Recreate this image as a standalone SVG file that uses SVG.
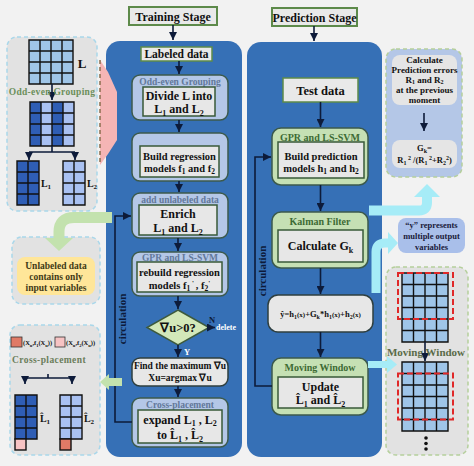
<svg xmlns="http://www.w3.org/2000/svg" width="474" height="466" viewBox="0 0 474 466">
<style>
text{font-family:"Liberation Serif","Times New Roman",serif;font-weight:bold;fill:#111;text-anchor:middle}
.panel{fill:#3670b6}
.stage{fill:#e9e9e9;stroke:#5d8a4a;stroke-width:2}
.cb{fill:#b4c7e7;stroke:#3c5a4c;stroke-width:1.5}
.cg{fill:#c5e0b4;stroke:#3c5a4c;stroke-width:1.5}
.ib{fill:#e7e7e7;stroke:#385a38;stroke-width:1.5}
.rb{fill:#e7e7e7;stroke:#2f3f3f;stroke-width:1.5}
.lb{fill:#62789a;font-size:9.5px}
.lg{fill:#3d6b35;font-size:10px}
.dc{fill:#e2e2e2;stroke:#a9d7ea;stroke-width:1.5;stroke-dasharray:4 3}
.dg{stroke:#b5cf9c;stroke-width:1.5;stroke-dasharray:4 3}
.grid{fill:none;stroke:#111;stroke-width:1.4}
.fl{fill:none;stroke:#0d1b3a;stroke-width:1.6}
.cy{fill:none;stroke:#a6ecf7}
.gr{fill:none;stroke:#c3e2ae}
.rd{fill:none;stroke:#e02828;stroke-width:2;stroke-dasharray:6 3}
.dark{fill:#2f5eb5}
.light{fill:#a9c1f2}
.sky{fill:#9fc5e8}
.ep{font-size:9px}
</style>
<defs>
<marker id="ah" viewBox="0 0 10 10" refX="10" refY="5" markerWidth="5" markerHeight="5" orient="auto"><path d="M0,0 L10,5 L0,10 z" fill="#0d1b3a"/></marker>
</defs>
<rect width="474" height="466" fill="#f2f2f2"/>

<!-- big panels -->
<rect class="panel" x="106" y="41" width="136" height="416" rx="14"/>
<rect class="panel" x="247" y="42" width="135" height="415" rx="14"/>

<!-- left side panels -->
<g id="grouping-panel">
<rect class="dc" x="7" y="37" width="90" height="174" rx="10"/>
<rect class="sky" x="29" y="40" width="44" height="44"/>
<path class="grid" d="M29,40h44v44h-44z M40,40v44 M51,40v44 M62,40v44 M29,51h44 M29,62h44 M29,73h44"/>
<text x="82" y="68" style="font-size:13px">L</text>
<rect class="dark" x="30" y="102" width="11" height="44"/>
<rect class="light" x="41" y="102" width="11" height="44"/>
<rect class="dark" x="52" y="102" width="11" height="44"/>
<rect class="light" x="63" y="102" width="11" height="44"/>
<path class="grid" d="M30,102h44v44h-44z M41,102v44 M52,102v44 M63,102v44 M30,113h44 M30,124h44 M30,135h44"/>
<rect class="dark" x="17" y="161" width="22" height="44"/>
<path class="grid" d="M17,161h22v44h-22z M28,161v44 M17,172h22 M17,183h22 M17,194h22"/>
<rect class="light" x="63" y="161" width="22" height="44"/>
<path class="grid" d="M63,161h22v44h-22z M74,161v44 M63,172h22 M63,183h22 M63,194h22"/>
<text x="46" y="187" style="font-size:10px">L<tspan dy="2" style="font-size:7px">1</tspan></text>
<text x="92" y="187" style="font-size:10px">L<tspan dy="2" style="font-size:7px">2</tspan></text>
<path class="fl" d="M52,84V100" marker-end="url(#ah)"/>
<text x="52" y="95" style="fill:#6b8e5a;font-size:9.5px;letter-spacing:0.3px">Odd-even Grouping</text>
<path class="fl" d="M52,146V152 M29,152H75" />
<path class="fl" d="M29,152V160" marker-end="url(#ah)"/>
<path class="fl" d="M75,152V160" marker-end="url(#ah)"/>
</g>

<g id="callout">
<polygon points="100,60 108,72 117,92 117,140 108,154 100,165" fill="#f5b5b5"/>
<path d="M100,60V165" stroke="#8b6d4d" stroke-width="1.5" stroke-dasharray="4 3"/>
</g>

<g id="unlabeled-panel">
<rect class="dc" x="12" y="237" width="88" height="67" rx="10"/>
<rect x="17" y="257" width="78" height="38" rx="8" fill="#ffe699"/>
<text x="56" y="269" style="font-size:9.5px;fill:#3f3a16">Unlabeled data</text>
<text x="56" y="280" style="font-size:9.5px;fill:#3f3a16">contains only</text>
<text x="56" y="291" style="font-size:9.5px;fill:#3f3a16">input variables</text>
</g>

<g id="cross-panel">
<rect class="dc" x="10" y="325" width="90" height="130" rx="10"/>
<rect x="11" y="337" width="11" height="10" fill="#e07a66" stroke="#333" stroke-width="0.8"/>
<text x="23" y="345" style="font-size:6.5px;text-anchor:start">(X<tspan dy="1.5" style="font-size:4.5px">u</tspan><tspan dy="-1.5">,f</tspan><tspan dy="1.5" style="font-size:4.5px">1</tspan><tspan dy="-1.5">(X</tspan><tspan dy="1.5" style="font-size:4.5px">u</tspan><tspan dy="-1.5">))</tspan></text>
<rect x="55" y="337" width="10" height="10" fill="#f7c3c3" stroke="#333" stroke-width="0.8"/>
<text x="66" y="345" style="font-size:6.5px;text-anchor:start">(X<tspan dy="1.5" style="font-size:4.5px">u</tspan><tspan dy="-1.5">,f</tspan><tspan dy="1.5" style="font-size:4.5px">2</tspan><tspan dy="-1.5">(X</tspan><tspan dy="1.5" style="font-size:4.5px">u</tspan><tspan dy="-1.5">))</tspan></text>
<text x="49" y="363" style="fill:#6b7d5a;font-size:9.5px;letter-spacing:0.4px">Cross-placement</text>
<path class="fl" d="M48,374V378 M25,378H72"/>
<path class="fl" d="M25,378V384" marker-end="url(#ah)"/>
<path class="fl" d="M72,378V384" marker-end="url(#ah)"/>
<rect class="dark" x="15" y="395" width="22" height="44"/>
<path class="grid" d="M15,395h22v44h-22z M26,395v44 M15,406h22 M15,417h22 M15,428h22"/>
<rect x="15" y="439" width="11" height="11" fill="#f7c3c3" stroke="#111" stroke-width="1.4"/>
<rect class="light" x="60" y="395" width="22" height="44"/>
<path class="grid" d="M60,395h22v44h-22z M71,395v44 M60,406h22 M60,417h22 M60,428h22"/>
<rect x="60" y="439" width="11" height="11" fill="#e07a66" stroke="#111" stroke-width="1.4"/>
<text x="45" y="422" style="font-size:10px">L̂<tspan dy="2" style="font-size:7px">1</tspan></text>
<text x="89" y="422" style="font-size:10px">L̂<tspan dy="2" style="font-size:7px">2</tspan></text>
</g>

<!-- right side panels -->
<g id="error-panel">
<rect x="386" y="49" width="76" height="128" rx="10" fill="#b4c7e7" class="dg"/>
<rect x="392" y="55" width="65" height="50" rx="8" fill="#e5e5e5"/>
<text class="ep" x="424.5" y="63">Calculate</text>
<text class="ep" x="424.5" y="73">Prediction errors</text>
<text class="ep" x="424.5" y="82.5">R<tspan dy="1.5" style="font-size:6px">1</tspan><tspan dy="-1.5"> and R</tspan><tspan dy="1.5" style="font-size:6px">2</tspan></text>
<text class="ep" x="424.5" y="93">at the previous</text>
<text class="ep" x="424.5" y="102.5">moment</text>
<path class="fl" d="M424,113V131" marker-end="url(#ah)"/>
<rect x="392" y="140" width="65" height="28" rx="8" fill="#e5e5e5"/>
<text x="424.5" y="151" style="font-size:8.5px">G<tspan dy="2" style="font-size:6px">k</tspan><tspan dy="-2">=</tspan></text>
<text x="424.5" y="163" style="font-size:8.5px">R<tspan dy="2" style="font-size:6px">1</tspan><tspan dy="-5" style="font-size:6px"> 2</tspan><tspan dy="3"> /(R</tspan><tspan dy="2" style="font-size:6px">1</tspan><tspan dy="-5" style="font-size:6px"> 2</tspan><tspan dy="3">+R</tspan><tspan dy="2" style="font-size:6px">2</tspan><tspan dy="-5" style="font-size:6px">2</tspan><tspan dy="3">)</tspan></text>
</g>

<g id="y-note">
<rect x="398" y="218" width="67" height="35" rx="8" fill="#a9bfea"/>
<text x="431.5" y="228" style="font-size:8.5px;fill:#1a1a3a">“y”  represents</text>
<text x="431.5" y="239" style="font-size:8.5px;fill:#1a1a3a">multiple output</text>
<text x="431.5" y="250" style="font-size:8.5px;fill:#1a1a3a">variables</text>
</g>

<g id="window-panel">
<rect x="386" y="267" width="82" height="188" rx="10" fill="#e2e2e2" class="dg"/>
<rect class="sky" x="402" y="273" width="46" height="69"/>
<path class="grid" d="M402,273h46v69h-46z M413.5,273v69 M425,273v69 M436.5,273v69 M402,284.5h46 M402,296h46 M402,307.5h46 M402,319h46 M402,330.5h46"/>
<rect class="rd" x="398" y="273" width="55" height="46"/>
<path class="fl" d="M425,342V361" marker-end="url(#ah)"/>
<text x="426" y="356" style="fill:#5a6b48;font-size:11px">Moving Window</text>
<rect class="sky" x="402" y="362" width="46" height="69"/>
<path class="grid" d="M402,362h46v69h-46z M413.5,362v69 M425,362v69 M436.5,362v69 M402,373.5h46 M402,385h46 M402,396.5h46 M402,408h46 M402,419.5h46"/>
<rect class="rd" x="398" y="373.5" width="55" height="46"/>
<circle cx="426" cy="438" r="1.8" fill="#111"/>
<circle cx="426" cy="443.5" r="1.8" fill="#111"/>
<circle cx="426" cy="449" r="1.8" fill="#111"/>
</g>

<!-- training stage nodes -->
<g id="training-stage">
<rect class="stage" x="129" y="7" width="88" height="18"/>
<text x="173" y="20.5" style="font-size:12px">Training Stage</text>
</g>
<g id="labeled-data">
<rect class="stage" x="141" y="47" width="71" height="14" style="stroke-width:1.5"/>
<text x="176.5" y="58" style="font-size:11.5px">Labeled data</text>
</g>
<g id="odd-even">
<rect class="cb" x="132" y="75" width="96" height="45" rx="8"/>
<text class="lb" x="180" y="84.5">Odd-even Grouping</text>
<rect class="ib" x="143" y="87" width="72" height="29"/>
<text x="179" y="99.5" style="font-size:12px">Divide L into</text>
<text x="179" y="113" style="font-size:12px">L<tspan dy="2.5" style="font-size:8px">1</tspan><tspan dy="-2.5"> and L</tspan><tspan dy="2.5" style="font-size:8px">2</tspan></text>
</g>
<g id="build-regression">
<rect class="cb" x="132" y="133" width="96" height="48" rx="8"/>
<rect class="ib" x="140" y="146" width="79" height="31"/>
<text x="179.5" y="159.5" style="font-size:10.5px">Build regression</text>
<text x="179.5" y="172" style="font-size:10.5px">models f<tspan dy="2" style="font-size:7.5px">1</tspan><tspan dy="-2"> and f</tspan><tspan dy="2" style="font-size:7.5px">2</tspan></text>
</g>
<g id="enrich">
<rect class="cb" x="132" y="193" width="96" height="45" rx="8"/>
<text class="lb" x="180" y="203">add unlabeled data</text>
<rect class="ib" x="139" y="205" width="78" height="30"/>
<text x="178" y="218" style="font-size:12px">Enrich</text>
<text x="178" y="232" style="font-size:12px">L<tspan dy="2.5" style="font-size:8px">1</tspan><tspan dy="-2.5"> and L</tspan><tspan dy="2.5" style="font-size:8px">2</tspan></text>
</g>
<g id="rebuild">
<rect class="cb" x="132" y="252" width="96" height="44" rx="8"/>
<text class="lb" x="180" y="260.5">GPR and LS-SVM</text>
<rect class="ib" x="137" y="262" width="85" height="30"/>
<text x="179.5" y="275.5" style="font-size:10.5px">rebuild regression</text>
<text x="179.5" y="288.5" style="font-size:10.5px">models f<tspan dy="2" style="font-size:7.5px">1</tspan><tspan dy="-6" style="font-size:7px"> ' </tspan><tspan dy="4">, f</tspan><tspan dy="2" style="font-size:7.5px">2</tspan><tspan dy="-6" style="font-size:7px">'</tspan></text>
</g>
<g id="decision">
<polygon points="178,310 209,327.5 178,345 147,327.5" fill="#d3e8b9" stroke="#3d5a3d" stroke-width="1.5"/>
<text x="178" y="332" style="font-size:12.5px">∇u&gt;0?</text>
<text x="212" y="323" style="font-size:8.5px;fill:#0d1b3a">N</text>
<text x="216" y="330" style="font-size:8px;fill:#fff;text-anchor:start">delete</text>
<text x="187" y="355" style="font-size:8.5px;fill:#fff">Y</text>
</g>
<g id="find-max">
<rect class="rb" x="132" y="358" width="96" height="28" rx="8"/>
<text x="180" y="368.5" style="font-size:9.5px">Find the maximum ∇u</text>
<text x="180" y="381" style="font-size:9.5px">Xu=argmax ∇u</text>
</g>
<g id="cross-placement">
<rect class="cb" x="132" y="398" width="96" height="49" rx="8"/>
<text class="lb" x="180" y="408">Cross-placement</text>
<rect class="ib" x="138" y="410" width="84" height="33"/>
<text x="180" y="423.5" style="font-size:12px">expand L<tspan dy="2.5" style="font-size:8px">1</tspan><tspan dy="-2.5"> , L</tspan><tspan dy="2.5" style="font-size:8px">2</tspan></text>
<text x="180" y="439" style="font-size:12px">to L̂<tspan dy="2.5" style="font-size:8px">1</tspan><tspan dy="-2.5"> , L̂</tspan><tspan dy="2.5" style="font-size:8px">2</tspan></text>
</g>

<!-- prediction stage nodes -->
<g id="prediction-stage">
<rect class="stage" x="272" y="8" width="85" height="18"/>
<text x="314.5" y="21.5" style="font-size:12px">Prediction Stage</text>
</g>
<g id="test-data">
<rect class="stage" x="283" y="78" width="75" height="24" style="stroke-width:1.5"/>
<text x="320.5" y="94.5" style="font-size:12.5px">Test data</text>
</g>
<g id="build-prediction">
<rect class="cg" x="272" y="128" width="96" height="57" rx="9"/>
<text class="lg" x="320" y="140.5">GPR and LS-SVM</text>
<rect class="ib" x="278" y="142" width="86" height="36"/>
<text x="321" y="159.5" style="font-size:10.5px">Build prediction</text>
<text x="321" y="172" style="font-size:10.5px">models h<tspan dy="2" style="font-size:7.5px">1</tspan><tspan dy="-2"> and h</tspan><tspan dy="2" style="font-size:7.5px">2</tspan></text>
</g>
<g id="kalman">
<rect class="cg" x="272" y="212" width="96" height="56" rx="9"/>
<text class="lg" x="320" y="224.5">Kalman Filter</text>
<rect class="ib" x="278" y="230" width="85" height="32"/>
<text x="320.5" y="250" style="font-size:12px">Calculate G<tspan dy="2.5" style="font-size:8px">k</tspan></text>
</g>
<g id="estimate">
<rect class="rb" x="268" y="295" width="105" height="37" rx="10"/>
<text x="320.5" y="317" style="font-size:8.5px">ŷ=h<tspan dy="2" style="font-size:6px">1</tspan><tspan dy="-2" style="font-size:7px">(x)</tspan><tspan>+G</tspan><tspan dy="2" style="font-size:6px">k</tspan><tspan dy="-2">*h</tspan><tspan dy="2" style="font-size:6px">1</tspan><tspan dy="-2" style="font-size:7px">(x)</tspan><tspan>+h</tspan><tspan dy="2" style="font-size:6px">2</tspan><tspan dy="-2" style="font-size:7px">(x)</tspan></text>
</g>
<g id="moving-window">
<rect class="cg" x="272" y="358" width="96" height="57" rx="9"/>
<text class="lg" x="320" y="371">Moving Window</text>
<rect class="ib" x="278" y="377" width="85" height="31"/>
<text x="320.5" y="390.5" style="font-size:12px">Update</text>
<text x="320.5" y="404" style="font-size:12px">L̂<tspan dy="2.5" style="font-size:8px">1</tspan><tspan dy="-2.5"> and L̂</tspan><tspan dy="2.5" style="font-size:8px">2</tspan></text>
</g>

<!-- connectors -->
<g id="connectors">
<path class="fl" d="M173,25V40" marker-end="url(#ah)"/>
<path class="fl" d="M179,61V74" marker-end="url(#ah)"/>
<path class="fl" d="M179,120V132" marker-end="url(#ah)"/>
<path class="fl" d="M179,181V192" marker-end="url(#ah)"/>
<path class="fl" d="M178,238V251" marker-end="url(#ah)"/>
<path class="fl" d="M178,296V309" marker-end="url(#ah)"/>
<path class="fl" d="M209,327.5H215" marker-end="url(#ah)"/>
<path class="fl" d="M178,345V357" marker-end="url(#ah)"/>
<path class="fl" d="M178,386V397" marker-end="url(#ah)"/>
<path class="fl" d="M132,422H115V216H131" marker-end="url(#ah)"/>
<text transform="translate(126,319) rotate(-90)" style="font-size:11px;fill:#0d1b3a">circulation</text>

<path class="fl" d="M314,26V41" marker-end="url(#ah)"/>
<path class="fl" d="M320.5,102V127" marker-end="url(#ah)"/>
<path class="fl" d="M320.5,185V211" marker-end="url(#ah)"/>
<path class="fl" d="M320.5,268V294" marker-end="url(#ah)"/>
<path class="fl" d="M320.5,332V357" marker-end="url(#ah)"/>
<path class="fl" d="M272,386H255V157H271" marker-end="url(#ah)"/>
<text transform="translate(266,271) rotate(-90)" style="font-size:11px;fill:#0d1b3a">circulation</text>

<path class="cy" d="M369,210.5H419Q427,210.5 427,202.5V196" stroke-width="10"/>
<polygon points="414,197 440,197 427,184" fill="#a6ecf7"/>
<path class="cy" d="M376,293V252Q376,243 385,243H389" stroke-width="9"/>
<polygon points="388,232 398,243 388,254" fill="#a6ecf7"/>
<path class="cy" d="M368,364.5H388" stroke-width="7"/>
<polygon points="387,356 397,364.5 387,373" fill="#a6ecf7"/>

<path class="gr" d="M112,217.5H74Q59,217.5 59,232V239" stroke-width="11"/>
<polygon points="45,238 73,238 59,251" fill="#c3e2ae"/>
<path class="gr" d="M122,382H108" stroke-width="8"/>
<polygon points="109,374 109,390 100,382" fill="#c3e2ae"/>
</g>
</svg>
